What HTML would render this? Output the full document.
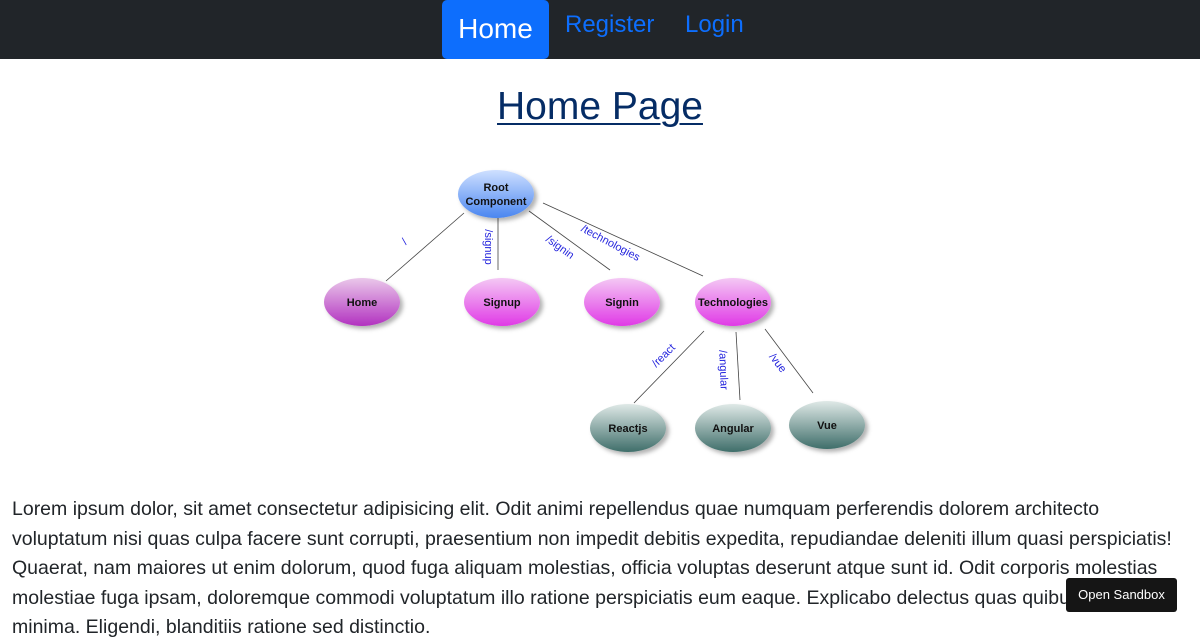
<!DOCTYPE html>
<html><head><style>
body{margin:0;width:1200px;height:630px;overflow:hidden;background:#fff;font-family:"Liberation Sans",sans-serif;}
.nav{height:59px;background:#212529;position:relative;}
.nav a{position:absolute;top:0;font-size:24px;text-decoration:none;}
.home{left:442px;width:107px;height:59px;background:#0d6efd;color:#fff;border-radius:5px;line-height:58px;text-align:center;font-size:28px!important;}
h1{position:absolute;top:85px;left:0;width:1200px;text-align:center;margin:0;font-weight:normal;font-size:39px;color:#052c65;text-decoration:underline;text-decoration-thickness:2px;text-underline-offset:4px;}
p{position:absolute;top:495px;left:12px;width:1178px;margin:0;font-size:19.5px;line-height:29.5px;color:#212529;}
.btn{position:absolute;left:1066px;top:578px;width:111px;height:34px;background:#151515;color:#fff;font-size:13px;line-height:34px;text-align:center;border-radius:3px;}
</style></head><body>
<div class="nav">
<a class="home">Home</a>
<a style="left:565px;top:11px;color:#0d6efd">Register</a>
<a style="left:685px;top:11px;color:#0d6efd">Login</a>
</div>
<h1>Home Page</h1>
<svg width="1200" height="630" style="position:absolute;left:0;top:0" font-family="Liberation Sans, sans-serif">
<defs>
<linearGradient id="b" x1="0" y1="0" x2="0" y2="1"><stop offset="0" stop-color="#cfe0ff"/><stop offset="1" stop-color="#4a86f0"/></linearGradient>
<linearGradient id="m" x1="0" y1="0" x2="0" y2="1"><stop offset="0" stop-color="#f4c8f4"/><stop offset="1" stop-color="#e03ae6"/></linearGradient>
<linearGradient id="h" x1="0" y1="0" x2="0" y2="1"><stop offset="0" stop-color="#eac8ea"/><stop offset="1" stop-color="#b232c0"/></linearGradient>
<linearGradient id="g" x1="0" y1="0" x2="0" y2="1"><stop offset="0" stop-color="#dfe9e7"/><stop offset="1" stop-color="#3f6e6a"/></linearGradient>
<filter id="s"><feDropShadow dx="3" dy="3" stdDeviation="2" flood-opacity="0.3"/></filter>
</defs>
<g stroke="#444" stroke-width="0.8">
<line x1="464" y1="213" x2="386" y2="281"/>
<line x1="498" y1="218" x2="498" y2="270"/>
<line x1="529" y1="211" x2="610" y2="270"/>
<line x1="543" y1="203" x2="703" y2="276"/>
<line x1="704" y1="331" x2="634" y2="403"/>
<line x1="736" y1="332" x2="740" y2="400"/>
<line x1="765" y1="329" x2="813" y2="393"/>
</g>
<g filter="url(#s)">
<ellipse cx="496" cy="194" rx="38" ry="24" fill="url(#b)"/>
<ellipse cx="362" cy="302" rx="38" ry="24" fill="url(#h)"/>
<ellipse cx="502" cy="302" rx="38" ry="24" fill="url(#m)"/>
<ellipse cx="622" cy="302" rx="38" ry="24" fill="url(#m)"/>
<ellipse cx="733" cy="302" rx="38" ry="24" fill="url(#m)"/>
<ellipse cx="628" cy="428" rx="38" ry="24" fill="url(#g)"/>
<ellipse cx="733" cy="428" rx="38" ry="24" fill="url(#g)"/>
<ellipse cx="827" cy="425" rx="38" ry="24" fill="url(#g)"/>
</g>
<g font-size="11" font-weight="bold" text-anchor="middle" fill="#111">
<text x="496" y="191">Root</text><text x="496" y="205">Component</text>
<text x="362" y="306">Home</text><text x="502" y="306">Signup</text>
<text x="622" y="306">Signin</text><text x="733" y="306">Technologies</text>
<text x="628" y="432">Reactjs</text><text x="733" y="432">Angular</text><text x="827" y="429">Vue</text>
</g>
<g font-size="11" fill="#2222dd" text-anchor="middle">
<text transform="translate(407,244) rotate(-45)">/</text>
<text transform="translate(485,247) rotate(90)">/signup</text>
<text transform="translate(558,250) rotate(36)">/signin</text>
<text transform="translate(609,246) rotate(28)">/technologies</text>
<text transform="translate(666,358) rotate(-45)">/react</text>
<text transform="translate(720,370) rotate(88)">/angular</text>
<text transform="translate(775,365) rotate(53)">/vue</text>
</g>
</svg>
<p>Lorem ipsum dolor, sit amet consectetur adipisicing elit. Odit animi repellendus quae numquam perferendis dolorem architecto voluptatum nisi quas culpa facere sunt corrupti, praesentium non impedit debitis expedita, repudiandae deleniti illum quasi perspiciatis! Quaerat, nam maiores ut enim dolorum, quod fuga aliquam molestias, officia voluptas deserunt atque sunt id. Odit corporis molestias molestiae fuga ipsam, doloremque commodi voluptatum illo ratione perspiciatis eum eaque. Explicabo delectus quas quibusdam minima. Eligendi, blanditiis ratione sed distinctio.</p>
<div class="btn">Open Sandbox</div>
</body></html>
